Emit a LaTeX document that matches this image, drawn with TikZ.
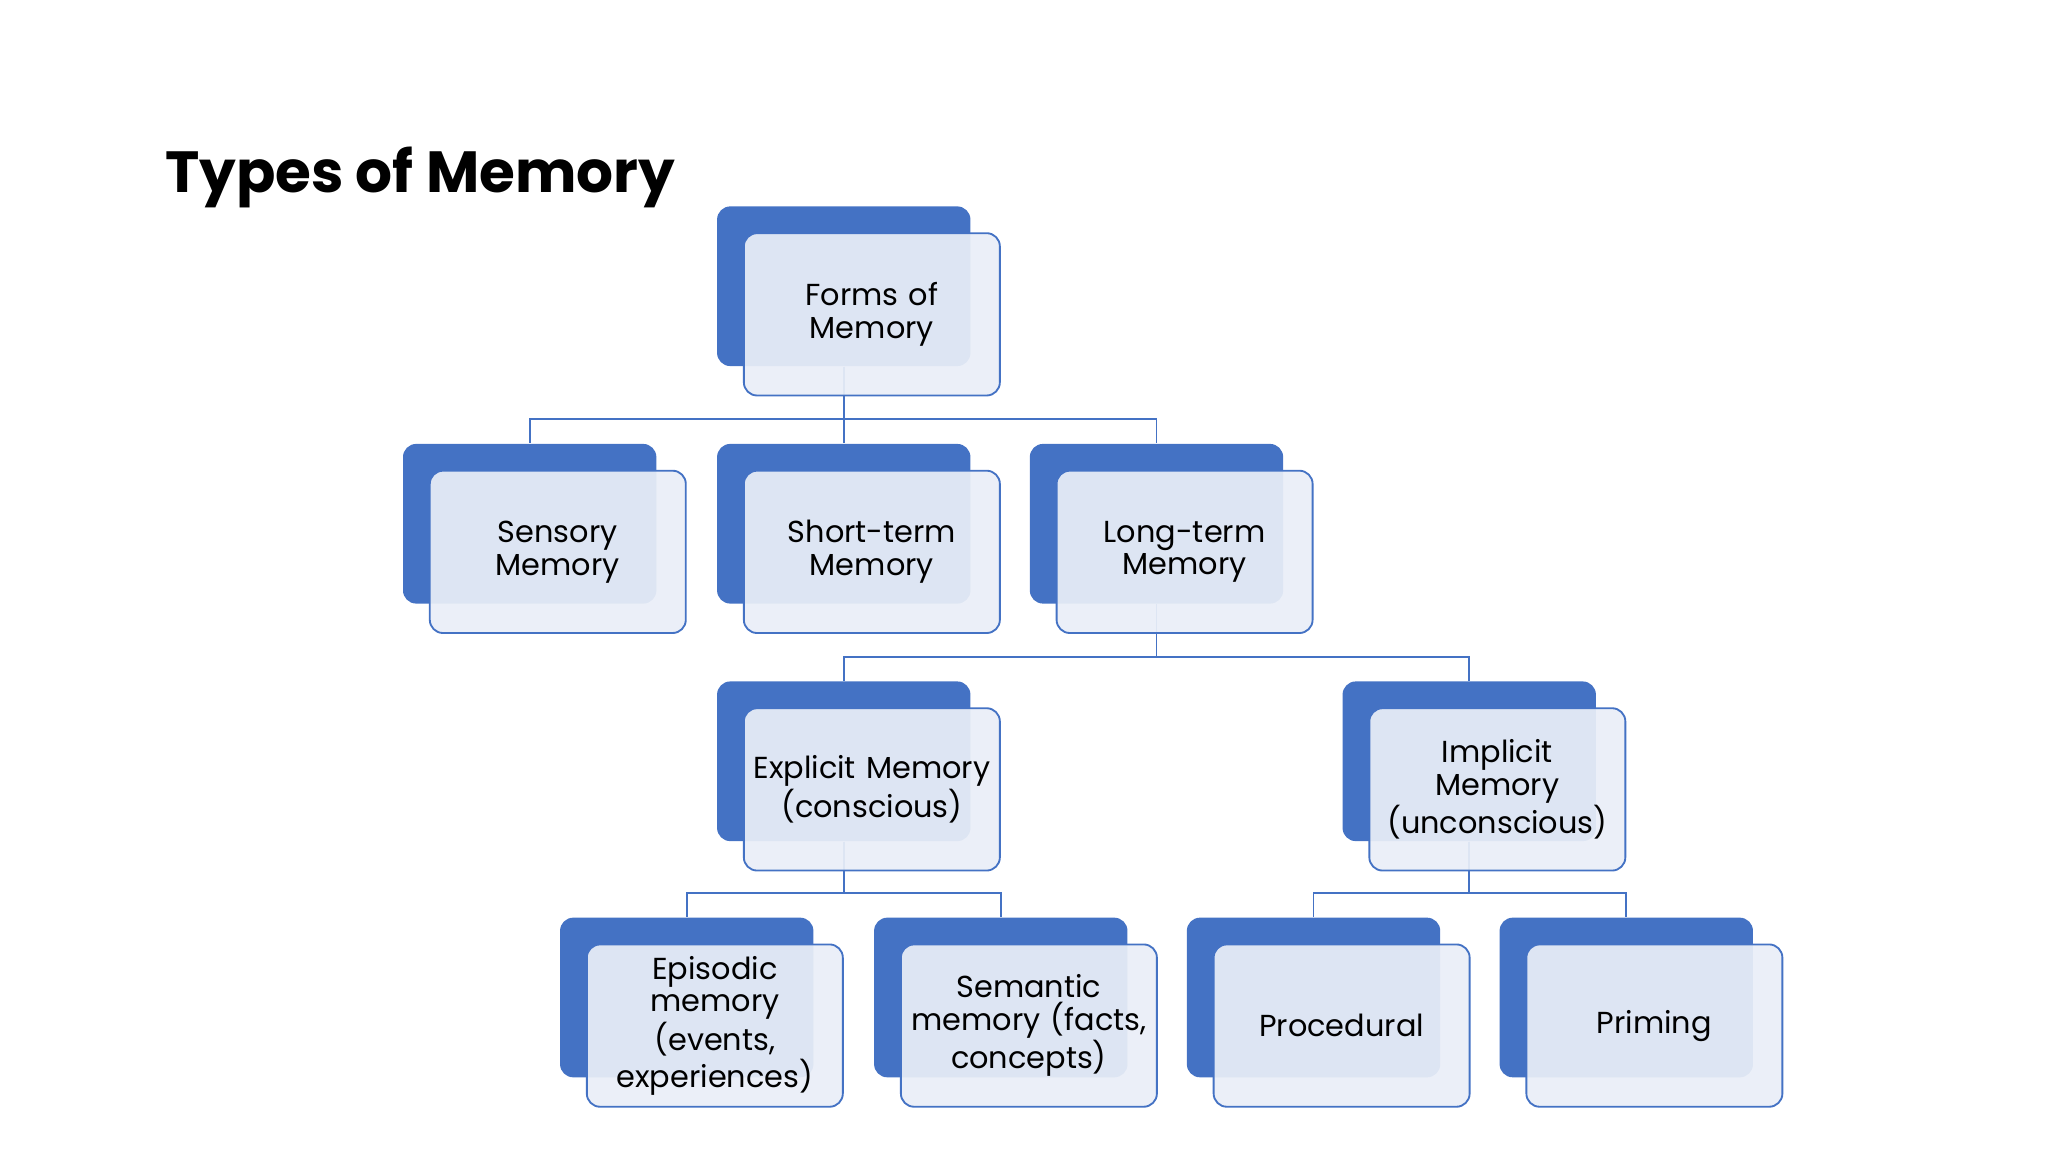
\documentclass[tikz,border=0pt]{standalone}
\usepackage{fontspec}
\setmainfont{Poppins}
\begin{document}
\begin{tikzpicture}[x=0.5pt,y=-0.5pt,
 back/.style={draw=none,fill=blue1,rounded corners=5pt,minimum width=96pt,minimum height=60.5pt,anchor=north west,inner sep=0pt},
 front/.style={draw=blue1,line width=0.7pt,fill=boxfill,fill opacity=0.93,text opacity=1,rounded corners=5pt,minimum width=97pt,minimum height=61.5pt,anchor=north west,inner sep=2pt,align=center,text width=92pt,font=\fontsize{11.5}{12.4}\selectfont},
 conn/.style={draw=blue1,line width=0.7pt}]
\definecolor{blue1}{HTML}{4472C4}
\definecolor{boxfill}{HTML}{E9EEF7}
\useasboundingbox (0,0) rectangle (1552,873);
\node[anchor=base west,font=\fontsize{22}{26}\selectfont\bfseries] (title) at (118,146) {Types of Memory};
% back boxes
\foreach \n/\x/\y in {fm/543/156, se/305/336, st/543/336, lt/780/336, ex/543/516, im/1017/516, ep/424/695, sm/662/695, pr/899/695, pm/1136/695}
  \node[back] (\n b) at (\x,\y) {};
% connectors
\draw[conn] (fmb.south) -- ++(0,40) -| (seb.north);
\draw[conn] (fmb.south) -- ++(0,40) -| (ltb.north);
\draw[conn] (fmb.south) -- (stb.north);
\draw[conn] (ltb.south) -- ++(0,40) -| (exb.north);
\draw[conn] (ltb.south) -- ++(0,40) -| (imb.north);
\draw[conn] (exb.south) -- ++(0,39) -| (epb.north);
\draw[conn] (exb.south) -- ++(0,39) -| (smb.north);
\draw[conn] (imb.south) -- ++(0,39) -| (prb.north);
\draw[conn] (imb.south) -- ++(0,39) -| (pmb.north);
% front boxes
\node[front] (fm) at (563,176) {Forms of\\Memory};
\node[front] (se) at (325,356) {Sensory\\Memory};
\node[front] (st) at (563,356) {Short-term\\Memory};
\node[front] (lt) at (800,356) {Long-term\\Memory};
\node[front] (ex) at (563,536) {Explicit Memory\\(conscious)};
\node[front] (im) at (1037,536) {Implicit\\Memory\\(unconscious)};
\node[front] (ep) at (444,715) {Episodic\\memory\\(events,\\experiences)};
\node[front] (sm) at (682,715) {Semantic\\memory (facts,\\concepts)};
\node[front] (pr) at (919,715) {Procedural};
\node[front] (pm) at (1156,715) {Priming};
\end{tikzpicture}
\end{document}
